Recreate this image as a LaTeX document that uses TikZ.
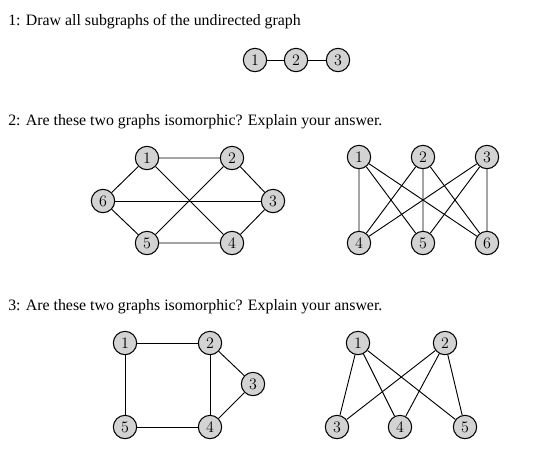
\documentclass[tikz,border=0pt]{standalone}
\usepackage{fontspec}
\setmainfont{Liberation Serif}
\newfontfamily\vtxfont{Latin Modern Roman}
\usepackage{tikz}
\usetikzlibrary{positioning}
\definecolor{cVTX}{HTML}{D3D3D3}

\begin{document}
\begin{tikzpicture}[x=0.75pt, y=-0.75pt,
  vtx/.style={circle, draw, thick, fill=cVTX, inner sep=0pt, minimum size=17.5pt, font=\vtxfont\fontsize{12}{13}\selectfont},
  edge/.style={line width=0.7pt},
  task/.style={anchor=base west, inner sep=0pt, font=\fontsize{11.9}{14}\selectfont}]
  \useasboundingbox (0,0) rectangle (540,451);

  % Task 1: path graph
  \node[task] (t1) at (8,25) {1: Draw all subgraphs of the undirected graph};
  \node[vtx] (p1) at (255,60) {1};
  \node[vtx] (p2) at (296,60) {2};
  \node[vtx] (p3) at (338,60) {3};
  \draw[edge] (p1) -- (p2) -- (p3);

  % Task 2: hexagon with diagonals
  \node[task] (t2) at (8,125) {2: Are these two graphs isomorphic? Explain your answer.};
  \node[vtx] (h1) at (147,158) {1};
  \node[vtx] (h2) at (232,158) {2};
  \node[vtx] (h3) at (273,201) {3};
  \node[vtx] (h4) at (232,243) {4};
  \node[vtx] (h5) at (147,243) {5};
  \node[vtx] (h6) at (103,201) {6};
  \draw[edge] (h1) -- (h2) -- (h3) -- (h4) -- (h5) -- (h6) -- (h1);
  \draw[edge] (h6) -- (h3);
  \draw[edge] (h1) -- (h4);
  \draw[edge] (h2) -- (h5);

  % Task 2: bipartite K33
  \node[vtx] (k1) at (359,157) {1};
  \node[vtx] (k2) at (423,157) {2};
  \node[vtx] (k3) at (487,157) {3};
  \node[vtx] (k4) at (359,243) {4};
  \node[vtx] (k5) at (423,243) {5};
  \node[vtx] (k6) at (487,243) {6};
  \draw[edge] (k1) -- (k4) (k1) -- (k5) (k1) -- (k6);
  \draw[edge] (k2) -- (k4) (k2) -- (k5) (k2) -- (k6);
  \draw[edge] (k3) -- (k4) (k3) -- (k5) (k3) -- (k6);

  % Task 3: house graph
  \node[task] (t3) at (8,310) {3: Are these two graphs isomorphic? Explain your answer.};
  \node[vtx] (q1) at (125,343) {1};
  \node[vtx] (q2) at (210,343) {2};
  \node[vtx] (q3) at (253,384) {3};
  \node[vtx] (q4) at (210,427) {4};
  \node[vtx] (q5) at (125,427) {5};
  \draw[edge] (q1) -- (q2) -- (q4) -- (q5) -- (q1);
  \draw[edge] (q2) -- (q3) -- (q4);

  % Task 3: bipartite K23
  \node[vtx] (b1) at (358,343) {1};
  \node[vtx] (b2) at (445,343) {2};
  \node[vtx] (b3) at (337,427) {3};
  \node[vtx] (b4) at (400,427) {4};
  \node[vtx] (b5) at (465,427) {5};
  \draw[edge] (b1) -- (b3) (b1) -- (b4) (b1) -- (b5);
  \draw[edge] (b2) -- (b3) (b2) -- (b4) (b2) -- (b5);
\end{tikzpicture}
\end{document}
